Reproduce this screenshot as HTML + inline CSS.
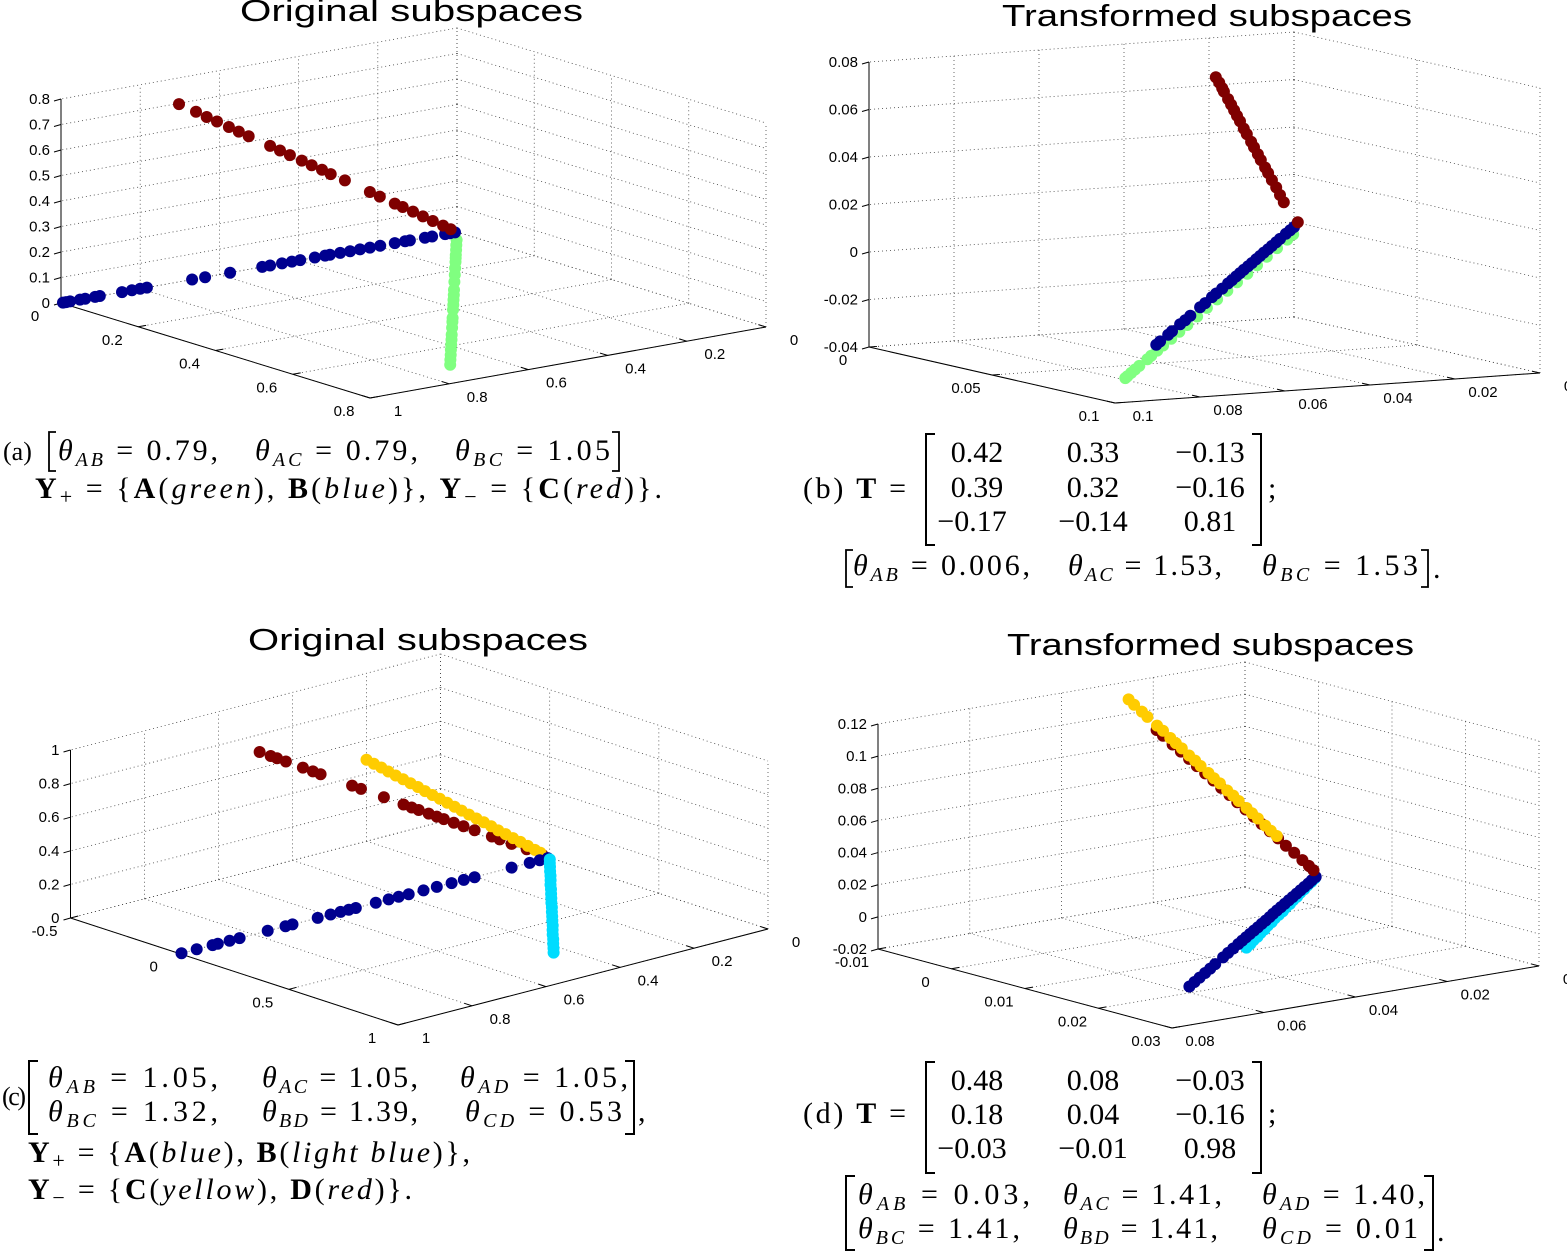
<!DOCTYPE html>
<html><head><meta charset="utf-8"><style>
html,body{margin:0;padding:0;background:#fff;}
svg{display:block;}
.cap{font-family:"Liberation Serif",serif;font-size:30px;fill:#000;}
.tt{font-family:"Liberation Sans",sans-serif;font-size:31px;fill:#000;}
.tk{font-family:"Liberation Sans",sans-serif;font-size:15px;fill:#000;}
</style></head><body>
<svg id="fig" width="1567" height="1251" viewBox="0 0 1567 1251" xmlns="http://www.w3.org/2000/svg">
<g id="plots"></g>
<text class="tt" x="240" y="21" textLength="343" lengthAdjust="spacingAndGlyphs">Original subspaces</text>
<text class="tt" x="1002" y="26" textLength="410" lengthAdjust="spacingAndGlyphs">Transformed subspaces</text>
<text class="tt" x="248" y="650" textLength="340" lengthAdjust="spacingAndGlyphs">Original subspaces</text>
<text class="tt" x="1007" y="655" textLength="407" lengthAdjust="spacingAndGlyphs">Transformed subspaces</text>

<g class="cap">
<text x="3" y="460" font-size="26">(a)</text>
<path d="M56,432 L49,432 L49,471 L56,471" fill="none" stroke="#000" stroke-width="1.8"/>
<text x="58" y="460" font-style="italic" textLength="160">θ<tspan font-size="20" dy="6">AB</tspan><tspan font-style="normal" dy="-6"> = 0.79,</tspan></text>
<text x="255" y="460" font-style="italic" textLength="163">θ<tspan font-size="20" dy="6">AC</tspan><tspan font-style="normal" dy="-6"> = 0.79,</tspan></text>
<text x="455" y="460" font-style="italic" textLength="155">θ<tspan font-size="20" dy="6">BC</tspan><tspan font-style="normal" dy="-6"> = 1.05</tspan></text>
<path d="M612,432 L619,432 L619,471 L612,471" fill="none" stroke="#000" stroke-width="1.8"/>
<text x="35" y="498" textLength="627"><tspan font-weight="bold">Y</tspan><tspan font-size="22" dy="6">+</tspan><tspan dy="-6"> = {</tspan><tspan font-weight="bold">A</tspan>(<tspan font-style="italic">green</tspan>), <tspan font-weight="bold">B</tspan>(<tspan font-style="italic">blue</tspan>)}, <tspan font-weight="bold">Y</tspan><tspan font-size="22" dy="6">−</tspan><tspan dy="-6"> = {</tspan><tspan font-weight="bold">C</tspan>(<tspan font-style="italic">red</tspan>)}.</text>
</g>

<g class="cap">
<text x="803" y="498" textLength="103">(b) <tspan font-weight="bold">T</tspan> =</text>
<path d="M935,434 L926,434 L926,545 L935,545" fill="none" stroke="#000" stroke-width="2"/>
<path d="M1252,434 L1261,434 L1261,545 L1252,545" fill="none" stroke="#000" stroke-width="2"/>
<g text-anchor="middle">
<text x="977" y="462">0.42</text><text x="1093" y="462">0.33</text><text x="1210" y="462">−0.13</text>
<text x="977" y="497">0.39</text><text x="1093" y="497">0.32</text><text x="1210" y="497">−0.16</text>
<text x="972" y="531">−0.17</text><text x="1093" y="531">−0.14</text><text x="1210" y="531">0.81</text>
</g>
<text x="1268" y="498">;</text>
<path d="M853,550 L846,550 L846,587 L853,587" fill="none" stroke="#000" stroke-width="1.8"/>
<text x="853" y="575" font-style="italic" textLength="177">θ<tspan font-size="20" dy="6">AB</tspan><tspan font-style="normal" dy="-6"> = 0.006,</tspan></text>
<text x="1068" y="575" font-style="italic" textLength="154">θ<tspan font-size="20" dy="6">AC</tspan><tspan font-style="normal" dy="-6"> = 1.53,</tspan></text>
<text x="1262" y="575" font-style="italic" textLength="156">θ<tspan font-size="20" dy="6">BC</tspan><tspan font-style="normal" dy="-6"> = 1.53</tspan></text>
<path d="M1421,550 L1428,550 L1428,587 L1421,587" fill="none" stroke="#000" stroke-width="1.8"/>
<text x="1433" y="578">.</text>
</g>

<g class="cap">
<text x="2" y="1105" font-size="26" textLength="24">(c)</text>
<path d="M38,1061 L29,1061 L29,1134 L38,1134" fill="none" stroke="#000" stroke-width="2"/>
<path d="M625,1061 L634,1061 L634,1134 L625,1134" fill="none" stroke="#000" stroke-width="2"/>
<text x="48" y="1087" font-style="italic" textLength="170">θ<tspan font-size="20" dy="6">AB</tspan><tspan font-style="normal" dy="-6"> = 1.05,</tspan></text>
<text x="262" y="1087" font-style="italic" textLength="156">θ<tspan font-size="20" dy="6">AC</tspan><tspan font-style="normal" dy="-6"> = 1.05,</tspan></text>
<text x="460" y="1087" font-style="italic" textLength="168">θ<tspan font-size="20" dy="6">AD</tspan><tspan font-style="normal" dy="-6"> = 1.05,</tspan></text>
<text x="48" y="1121" font-style="italic" textLength="170">θ<tspan font-size="20" dy="6">BC</tspan><tspan font-style="normal" dy="-6"> = 1.32,</tspan></text>
<text x="262" y="1121" font-style="italic" textLength="156">θ<tspan font-size="20" dy="6">BD</tspan><tspan font-style="normal" dy="-6"> = 1.39,</tspan></text>
<text x="465" y="1121" font-style="italic" textLength="157">θ<tspan font-size="20" dy="6">CD</tspan><tspan font-style="normal" dy="-6"> = 0.53</tspan></text>
<text x="638" y="1121">,</text>
<text x="28" y="1162" textLength="442"><tspan font-weight="bold">Y</tspan><tspan font-size="22" dy="6">+</tspan><tspan dy="-6"> = {</tspan><tspan font-weight="bold">A</tspan>(<tspan font-style="italic">blue</tspan>), <tspan font-weight="bold">B</tspan>(<tspan font-style="italic">light blue</tspan>)},</text>
<text x="28" y="1199" textLength="384"><tspan font-weight="bold">Y</tspan><tspan font-size="22" dy="6">−</tspan><tspan dy="-6"> = {</tspan><tspan font-weight="bold">C</tspan>(<tspan font-style="italic">yellow</tspan>), <tspan font-weight="bold">D</tspan>(<tspan font-style="italic">red</tspan>)}.</text>
</g>

<g class="cap">
<text x="803" y="1123" textLength="103">(d) <tspan font-weight="bold">T</tspan> =</text>
<path d="M935,1062 L926,1062 L926,1173 L935,1173" fill="none" stroke="#000" stroke-width="2"/>
<path d="M1252,1062 L1261,1062 L1261,1173 L1252,1173" fill="none" stroke="#000" stroke-width="2"/>
<g text-anchor="middle">
<text x="977" y="1090">0.48</text><text x="1093" y="1090">0.08</text><text x="1210" y="1090">−0.03</text>
<text x="977" y="1124">0.18</text><text x="1093" y="1124">0.04</text><text x="1210" y="1124">−0.16</text>
<text x="972" y="1158">−0.03</text><text x="1093" y="1158">−0.01</text><text x="1210" y="1158">0.98</text>
</g>
<text x="1268" y="1123">;</text>
<path d="M855,1176 L846,1176 L846,1250 L855,1250" fill="none" stroke="#000" stroke-width="2"/>
<path d="M1424,1176 L1433,1176 L1433,1250 L1424,1250" fill="none" stroke="#000" stroke-width="2"/>
<text x="858" y="1204" font-style="italic" textLength="172">θ<tspan font-size="20" dy="6">AB</tspan><tspan font-style="normal" dy="-6"> = 0.03,</tspan></text>
<text x="1063" y="1204" font-style="italic" textLength="159">θ<tspan font-size="20" dy="6">AC</tspan><tspan font-style="normal" dy="-6"> = 1.41,</tspan></text>
<text x="1262" y="1204" font-style="italic" textLength="163">θ<tspan font-size="20" dy="6">AD</tspan><tspan font-style="normal" dy="-6"> = 1.40,</tspan></text>
<text x="858" y="1238" font-style="italic" textLength="162">θ<tspan font-size="20" dy="6">BC</tspan><tspan font-style="normal" dy="-6"> = 1.41,</tspan></text>
<text x="1063" y="1238" font-style="italic" textLength="155">θ<tspan font-size="20" dy="6">BD</tspan><tspan font-style="normal" dy="-6"> = 1.41,</tspan></text>
<text x="1262" y="1238" font-style="italic" textLength="156">θ<tspan font-size="20" dy="6">CD</tspan><tspan font-style="normal" dy="-6"> = 0.01</tspan></text>
<text x="1437" y="1241">.</text>
</g>
</svg>
<script>
// ---------- Panel (a) data ----------
const aTicksU = [0, 0.2, 0.4, 0.6, 0.8];
const aTicksV = [0, 0.2, 0.4, 0.6, 0.8, 1];
const aTicksW = [0, 0.1, 0.2, 0.3, 0.4, 0.5, 0.6, 0.7, 0.8];
const aLabelsU = ['0', '0.2', '0.4', '0.6', '0.8'];
const aLabelsV = ['0', '0.2', '0.4', '0.6', '0.8', '1'];
const aLabelsW = ['0', '0.1', '0.2', '0.3', '0.4', '0.5', '0.6', '0.7', '0.8'];
const aGreenU = [.042,.069,.095,.121,.137,.158,.19,.226,.263,.305,.332,.358,.384,.41,.453,.474,.505,.542,.568,.595,.621,.648,.673,.7];
const aGreenV = [.042,.069,.095,.121,.137,.158,.19,.226,.263,.305,.332,.358,.384,.41,.453,.474,.505,.542,.568,.595,.621,.648,.673,.7];
const aBlueV = [0.005,0.018,0.03,0.063,0.081,0.119,0.131,0.157,0.194,0.22,0.245,0.27,0.295,0.321,0.333,0.359,0.396,0.417,0.442,0.472,0.492,0.573,0.636,0.669,0.783,0.8,0.821,0.846,0.902,0.914,0.939,0.952,0.977,0.987,0.995];
const aRedV = [.702,.659,.632,.606,.576,.551,.526,.472,.447,.422,.392,.367,.341,.319,.283,.22,.195,.157,.137,.111,.086,.061,.035,.016];
const aRedW = [.697,.655,.627,.602,.572,.547,.522,.469,.444,.419,.389,.364,.339,.316,.281,.218,.193,.155,.136,.111,.085,.06,.035,.015];

// ---------- Panel (b) data ----------
const bTicksU = [0, 0.05, 0.1];
const bTicksV = [0, 0.02, 0.04, 0.06, 0.08, 0.1];
const bTicksW = [-0.04, -0.02, 0, 0.02, 0.04, 0.06, 0.08];
const bLabelsU = ['0', '0.05', '0.1'];
const bLabelsV = ['0', '0.02', '0.04', '0.06', '0.08', '0.1'];
const bLabelsW = ['-0.04', '-0.02', '0', '0.02', '0.04', '0.06', '0.08'];
const bGreenV = [.0002,.0016,.004,.0064,.0087,.011,.0134,.0157,.0181,.0205,.0228,.0251,.027,.0289,.0308,.0322,.0336,.0345,.0364,.0374,.0383,.0392,.0397];
const bGreenW = [-.0052,-.0072,-.0105,-.0138,-.0171,-.0204,-.0237,-.027,-.0303,-.0336,-.0369,-.0402,-.0428,-.0455,-.0481,-.0501,-.0521,-.0534,-.0560,-.0574,-.0587,-.0600,-.0607];
const bBlueV = [0,.0009,.0019,.0033,.0042,.0052,.0061,.0071,.008,.0089,.0099,.0108,.0118,.0127,.0136,.0146,.0155,.0169,.0183,.0193,.0209,.0221,.0244,.0256,.0268,.0287,.0296,.0315,.0324];
const bBlueW = [-.0021,-.0034,-.0047,-.0067,-.008,-.0094,-.0107,-.012,-.0133,-.0146,-.016,-.0173,-.0186,-.0199,-.0212,-.0226,-.0239,-.0259,-.0278,-.0292,-.0315,-.0331,-.0364,-.0381,-.0397,-.0424,-.0437,-.0463,-.0476];
const bRedV = [.0184,.0176,.0169,.0165,.0155,.0148,.0141,.0134,.0127,.0118,.0111,.0101,.0094,.0085,.0078,.0068,.0061,.0052,.0042,.0033,.0024,-.0009];
const bRedW = [.0633,.0609,.0585,.057,.0537,.0513,.0488,.0464,.044,.0408,.0384,.0351,.0327,.0296,.0271,.0238,.0214,.0183,.0151,.0118,.0086,-.0002];

// ---------- Panel (c) data ----------
const cTicksU = [-0.5, 0, 0.5, 1];
const cTicksV = [0, 0.2, 0.4, 0.6, 0.8, 1];
const cTicksW = [0, 0.2, 0.4, 0.6, 0.8, 1];
const cLabelsU = ['-0.5', '0', '0.5', '1'];
const cLabelsV = ['0', '0.2', '0.4', '0.6', '0.8', '1'];
const cLabelsW = ['0', '0.2', '0.4', '0.6', '0.8', '1'];
const cBlueV = [.005,.027,.054,.103,.203,.232,.265,.305,.341,.381,.408,.435,.47,.524,.543,.565,.592,.627,.695,.714,.762,.838,.865,.897,.911,.954,.995];
const cCyanU = [.014,.043,.071,.107,.143,.179,.214,.25,.286,.321,.357,.393,.429,.464,.5,.536,.571,.607,.643,.679,.714,.75];
const cCyanV = [.008,.025,.041,.062,.082,.103,.124,.144,.165,.185,.206,.226,.247,.267,.288,.308,.329,.35,.37,.391,.411,.432];
const cRedV = [.784,.754,.737,.713,.667,.640,.619,.534,.510,.448,.395,.373,.354,.327,.305,.286,.259,.233,.203,.156,.135,.103,.062,.019];
const cRedW = [1.077,1.036,1.013,.980,.917,.879,.850,.734,.701,.616,.542,.512,.486,.449,.419,.393,.356,.320,.279,.215,.186,.141,.085,.026];
const cYellowV = [.495,.475,.455,.436,.416,.396,.376,.356,.337,.317,.297,.277,.257,.238,.218,.198,.178,.158,.139,.119,.099,.079,.059,.04,.025];
const cYellowW = [.866,.831,.797,.762,.727,.693,.658,.624,.589,.554,.52,.485,.45,.416,.381,.346,.312,.277,.242,.208,.173,.139,.104,.069,.043];

// ---------- Panel (d) data ----------
const dTicksU = [-0.01, 0, 0.01, 0.02, 0.03];
const dTicksV = [0, 0.02, 0.04, 0.06, 0.08];
const dTicksW = [-0.02, 0, 0.02, 0.04, 0.06, 0.08, 0.1, 0.12];
const dLabelsU = ['-0.01', '0', '0.01', '0.02', '0.03'];
const dLabelsV = ['0', '0.02', '0.04', '0.06', '0.08'];
const dLabelsW = ['-0.02', '0', '0.02', '0.04', '0.06', '0.08', '0.1', '0.12'];
const dBlueU = [.00056,.0014,.00224,.00308,.00392,.00476,.0056,.00644,.00728,.00812,.00896,.0098,.01064,.01148,.01232,.01316,.014,.01484,.01568,.01652,.01736,.01848,.0196,.02072,.0224,.02352,.02464,.02576,.02688,.028];
const dBlueV = [.0015,.0037,.0058,.008,.0102,.0124,.0146,.0168,.019,.0212,.0234,.0256,.0277,.0299,.0321,.0343,.0365,.0387,.0409,.0431,.0453,.0482,.0511,.054,.0584,.0613,.0642,.0672,.0701,.073];
const dCyanU = [.00095,.0019,.0028,.0038,.0047,.0057,.0066,.0076,.0085,.0095,.0104,.0113,.0123,.0132,.0142,.0151,.0161,.017,.018,.0189];
const dCyanV = [.0023,.0046,.0069,.0092,.0115,.0138,.0161,.0184,.0207,.023,.0253,.0276,.0299,.0322,.0345,.0368,.0391,.0414,.0437,.046];
const dRedV = [.0353,.0339,.0318,.03,.0282,.0265,.0247,.0229,.0212,.0194,.0177,.0159,.0141,.0124,.0106,.0088,.0071,.0053,.0035,.0021,.0011];
const dRedW = [.107,.1027,.0963,.091,.0856,.0803,.0749,.0696,.0642,.0589,.0535,.0482,.0428,.0375,.0321,.0268,.0214,.0161,.0107,.0064,.0032];
const dYellowV = [.0414,.0402,.0385,.0373,.0352,.0339,.0323,.0311,.0298,.0282,.0269,.0257,.024,.0228,.0215,.0199,.0186,.0174,.0157,.0145,.0132,.0116,.0104,.0091];
const dYellowW = [.129,.1251,.12,.1161,.1097,.1058,.1006,.0968,.0929,.0877,.0839,.08,.0748,.071,.0671,.0619,.0581,.0542,.049,.0452,.0413,.0361,.0323,.0284];

const NS = 'http://www.w3.org/2000/svg';
const root = document.getElementById('plots');
function mk(tag, attrs, parent) {
  const e = document.createElementNS(NS, tag);
  for (const k in attrs) e.setAttribute(k, attrs[k]);
  parent.appendChild(e);
  return e;
}
function proj(g, u, v, w) {
  const uf = (u - g.u[0]) / (g.u[1] - g.u[0]);
  const vf = (v - g.v[0]) / (g.v[1] - g.v[0]);
  const wf = (w - g.w[0]) / (g.w[1] - g.w[0]);
  const B = [g.L[0] + g.R[0] - g.F[0], g.L[1] + g.R[1] - g.F[1]];
  return [B[0] + uf * (g.F[0] - g.L[0]) + vf * (g.L[0] - B[0]),
          B[1] + uf * (g.F[1] - g.L[1]) + vf * (g.L[1] - B[1]) - wf * g.H];
}
function drawAxes(name, g, tu, tv, tw, lu, lv, lw) {
  const grp = mk('g', {}, root);
  
  
  const grid = {stroke: '#444', 'stroke-width': 0.8, 'stroke-dasharray': '1 3', fill: 'none'};
  function ln(p, q, st) { return mk('line', Object.assign({x1: p[0], y1: p[1], x2: q[0], y2: q[1]}, st), grp); }
  const u0 = g.u[0], u1 = g.u[1], v0 = g.v[0], v1 = g.v[1], w0 = g.w[0], w1 = g.w[1];
  tu.forEach(u => { ln(proj(g,u,v0,w0), proj(g,u,v1,w0), grid); ln(proj(g,u,v0,w0), proj(g,u,v0,w1), grid); });
  tv.forEach(v => { ln(proj(g,u0,v,w0), proj(g,u1,v,w0), grid); ln(proj(g,u0,v,w0), proj(g,u0,v,w1), grid); });
  tw.forEach(w => { ln(proj(g,u0,v0,w), proj(g,u0,v1,w), grid); ln(proj(g,u0,v0,w), proj(g,u1,v0,w), grid); });
  const ax = {stroke: '#000', 'stroke-width': 1};
  ln(proj(g,u0,v1,w0), proj(g,u1,v1,w0), ax);
  ln(proj(g,u1,v1,w0), proj(g,u1,v0,w0), ax);
  ln(proj(g,u0,v1,w0), proj(g,u0,v1,w1), ax);
  const B = [g.L[0] + g.R[0] - g.F[0], g.L[1] + g.R[1] - g.F[1]];
  const dLB = [B[0]-g.L[0], B[1]-g.L[1]], nLB = Math.hypot(dLB[0], dLB[1]);
  const dFL = [g.L[0]-g.F[0], g.L[1]-g.F[1]], nFL = Math.hypot(dFL[0], dFL[1]);
  tu.forEach((u, i) => {
    const p = proj(g,u,v1,w0);
    ln(p, [p[0] + 8*dLB[0]/nLB, p[1] + 8*dLB[1]/nLB], ax);
    const t = mk('text', {x: p[0] - 26, y: p[1] + 18, class: 'tk', 'text-anchor': 'middle'}, grp);
    
    
    t.textContent = lu[i];
  });
  tv.forEach((v, i) => {
    const p = proj(g,u1,v,w0);
    ln(p, [p[0] + 8*dFL[0]/nFL, p[1] + 8*dFL[1]/nFL], ax);
    const t = mk('text', {x: p[0] + 28, y: p[1] + 18, class: 'tk', 'text-anchor': 'middle'}, grp);
    
    
    t.textContent = lv[i];
  });
  tw.forEach((w, i) => {
    const p = proj(g,u0,v1,w);
    ln(p, [p[0] - 7, p[1] + 2], ax);
    const t = mk('text', {x: p[0] - 11, y: p[1] + 5, class: 'tk', 'text-anchor': 'end'}, grp);
    
    
    t.textContent = lw[i];
  });
}
function at(a, i) { return Array.isArray(a) ? a[i] : a; }
function drawSeries(name, g, U, V, W, color, r) {
  const grp = mk('g', {fill: color}, root);
  
  
  const n = [U, V, W].find(Array.isArray).length;
  for (let i = 0; i < n; i++) {
    const p = proj(g, at(U,i), at(V,i), at(W,i));
    const c = mk('circle', {cx: p[0].toFixed(1), cy: p[1].toFixed(1), r: r}, grp);
    
    
  }
}
const RED = '#7f0000', BLUE = '#00008f', GREEN = '#80ff80', CYAN = '#00dcff', YELLOW = '#ffcc00';
const R0 = 6;

const gA = {L:[61,303], F:[370,398], R:[766,327], H:204, u:[0,0.8], v:[0,1], w:[0,0.8]};
drawAxes('panel-a', gA, aTicksU, aTicksV, aTicksW, aLabelsU, aLabelsV, aLabelsW);
drawSeries('series-a-green', gA, aGreenU, aGreenV, 0, GREEN, R0);
drawSeries('series-a-blue', gA, 0, aBlueV, 0, BLUE, R0);
drawSeries('series-a-red', gA, 0, aRedV, aRedW, RED, R0);

const gB = {L:[869,347], F:[1115,403], R:[1540,373], H:285, u:[0,0.1], v:[0,0.1], w:[-0.04,0.08]};
drawAxes('panel-b', gB, bTicksU, bTicksV, bTicksW, bLabelsU, bLabelsV, bLabelsW);
drawSeries('series-b-green', gB, 0, bGreenV, bGreenW, GREEN, R0);
drawSeries('series-b-blue', gB, 0, bBlueV, bBlueW, BLUE, R0);
drawSeries('series-b-red', gB, 0, bRedV, bRedW, RED, R0);

const gC = {L:[70.5,918], F:[398,1025], R:[768,929], H:168, u:[-0.5,1], v:[0,1], w:[0,1]};
drawAxes('panel-c', gC, cTicksU, cTicksV, cTicksW, cLabelsU, cLabelsV, cLabelsW);
drawSeries('series-c-red', gC, 0, cRedV, cRedW, RED, R0);
drawSeries('series-c-yellow', gC, 0, cYellowV, cYellowW, YELLOW, R0);
drawSeries('series-c-blue', gC, 0, cBlueV, 0, BLUE, R0);
drawSeries('series-c-cyan', gC, cCyanU, cCyanV, 0, CYAN, R0);

const gD = {L:[878,949], F:[1172,1028], R:[1539,966], H:225, u:[-0.01,0.03], v:[0,0.08], w:[-0.02,0.12]};
drawAxes('panel-d', gD, dTicksU, dTicksV, dTicksW, dLabelsU, dLabelsV, dLabelsW);
drawSeries('series-d-cyan', gD, dCyanU, dCyanV, 0, CYAN, R0);
drawSeries('series-d-blue', gD, dBlueU, dBlueV, 0, BLUE, R0);
drawSeries('series-d-red', gD, 0, dRedV, dRedW, RED, R0);
drawSeries('series-d-yellow', gD, 0, dYellowV, dYellowW, YELLOW, R0);
</script>
</body></html>
